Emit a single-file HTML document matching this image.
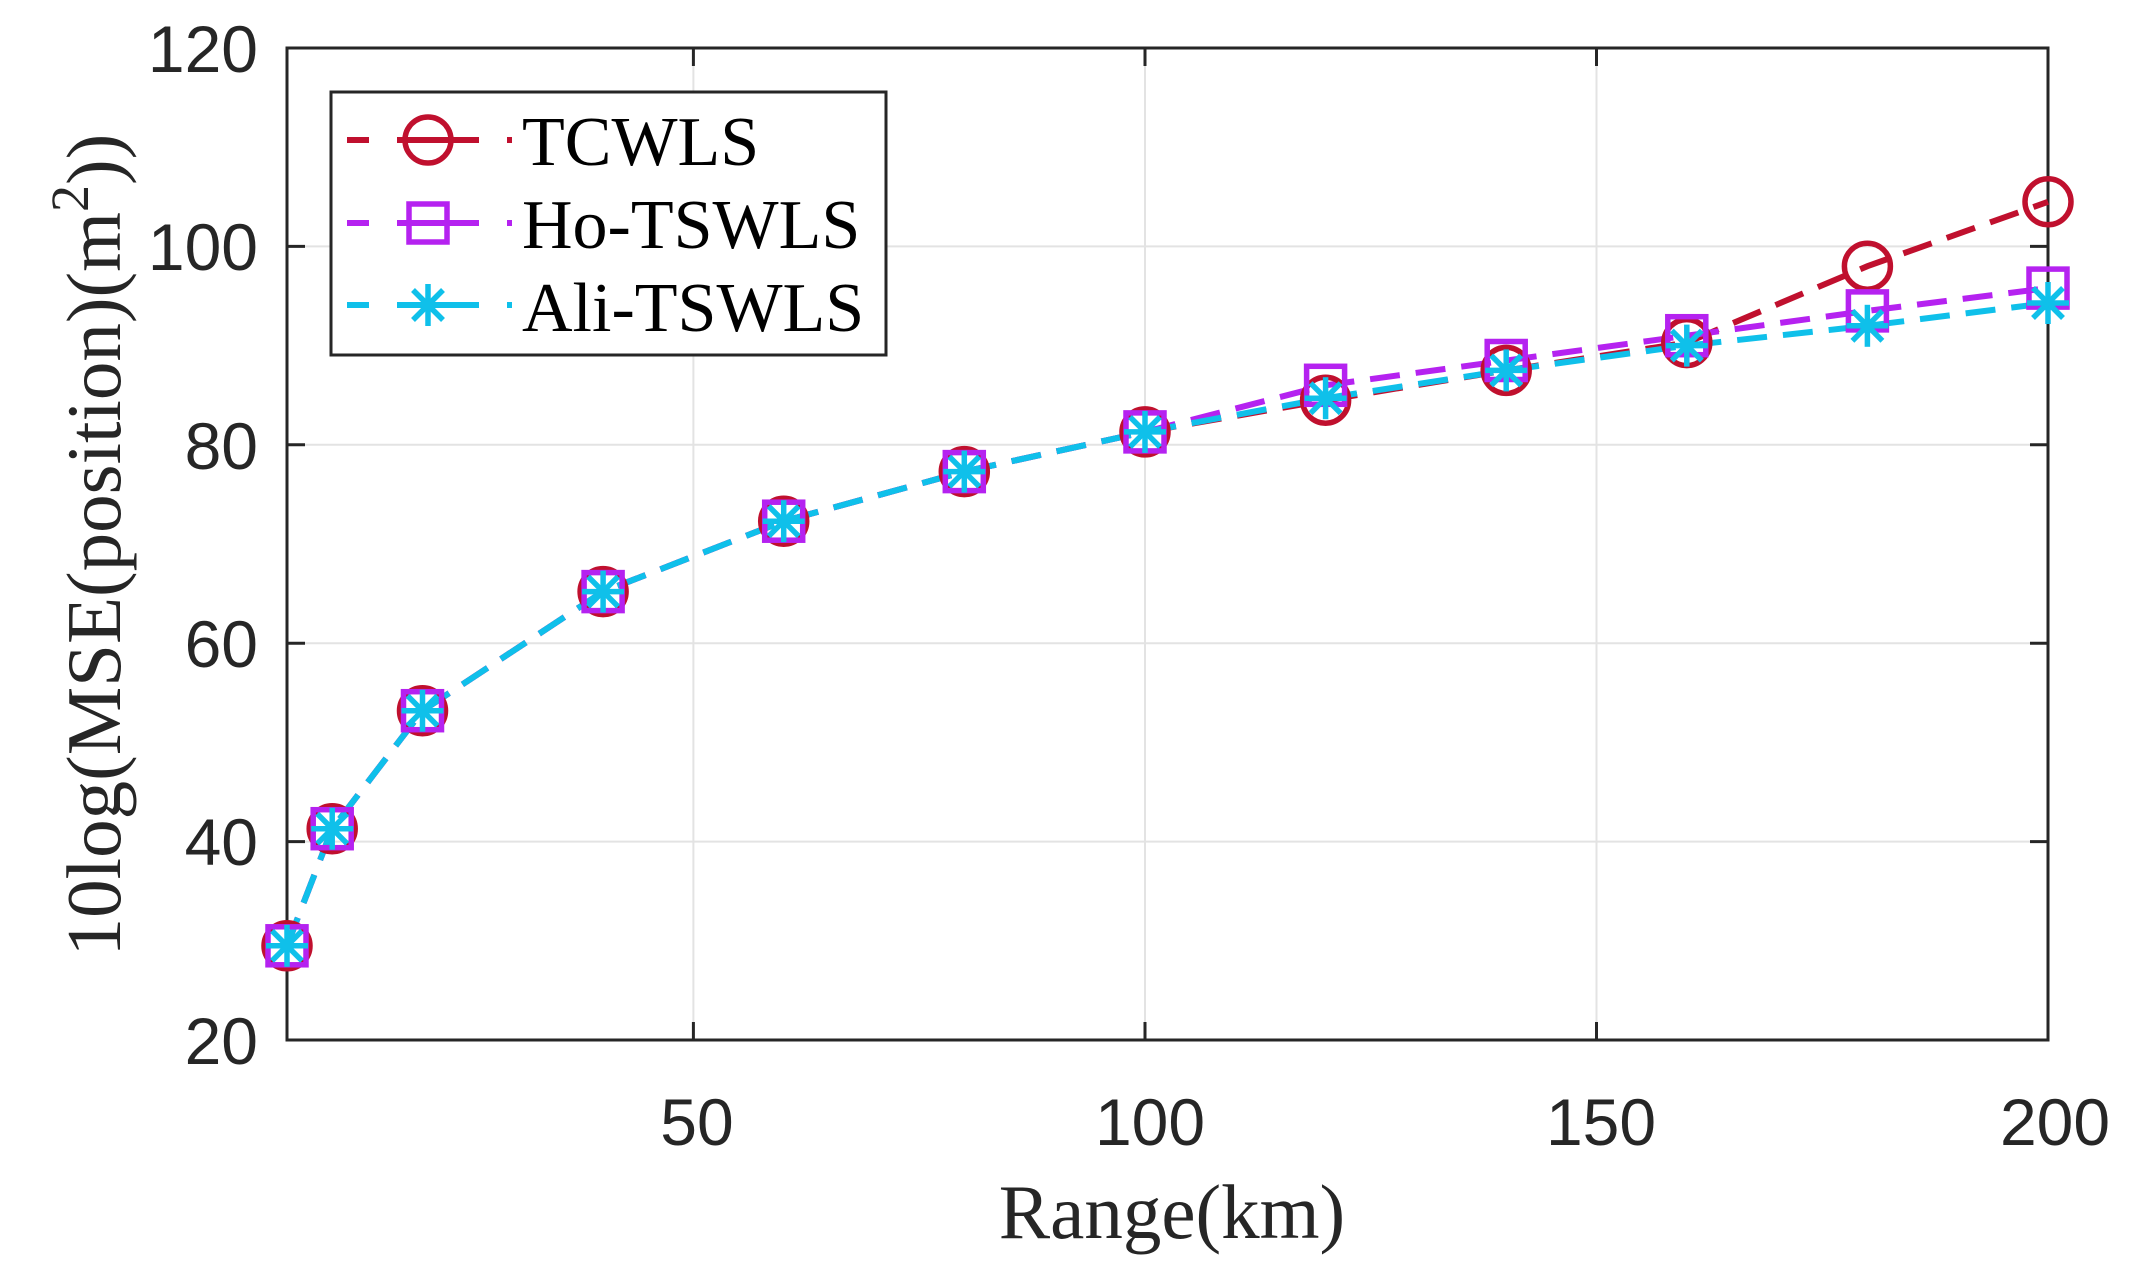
<!DOCTYPE html>
<html><head><meta charset="utf-8"><style>html,body{margin:0;padding:0;background:#fff}svg{display:block}</style></head>
<body>
<svg width="2134" height="1283" viewBox="0 0 2134 1283" xmlns="http://www.w3.org/2000/svg">
<defs>
<circle id="mc" r="23" fill="none" stroke="#c0102e" stroke-width="5.5"/>
<rect id="ms" x="-19" y="-19" width="38" height="38" fill="none" stroke="#b522f0" stroke-width="5.5"/>
<g id="ma" stroke="#0fc0ea" stroke-width="5.5"><line x1="-21" y1="0" x2="21" y2="0"/><line x1="0" y1="-21" x2="0" y2="21"/><line x1="-15" y1="-15" x2="15" y2="15"/><line x1="-15" y1="15" x2="15" y2="-15"/></g>
</defs>
<rect x="0" y="0" width="2134" height="1283" fill="#fff"/>
<g stroke="#e3e3e3" stroke-width="2">
<line x1="693.4" y1="48" x2="693.4" y2="1040"/><line x1="1145" y1="48" x2="1145" y2="1040"/><line x1="1596.5" y1="48" x2="1596.5" y2="1040"/>
<line x1="287" y1="841.6" x2="2048" y2="841.6"/><line x1="287" y1="643.2" x2="2048" y2="643.2"/><line x1="287" y1="444.8" x2="2048" y2="444.8"/><line x1="287" y1="246.4" x2="2048" y2="246.4"/>
</g>
<g stroke="#262626" stroke-width="3">
<line x1="693.4" y1="1040" x2="693.4" y2="1022"/><line x1="1145" y1="1040" x2="1145" y2="1022"/><line x1="1596.5" y1="1040" x2="1596.5" y2="1022"/>
<line x1="693.4" y1="48" x2="693.4" y2="66"/><line x1="1145" y1="48" x2="1145" y2="66"/><line x1="1596.5" y1="48" x2="1596.5" y2="66"/>
<line x1="287" y1="841.6" x2="305" y2="841.6"/><line x1="287" y1="643.2" x2="305" y2="643.2"/><line x1="287" y1="444.8" x2="305" y2="444.8"/><line x1="287" y1="246.4" x2="305" y2="246.4"/>
<line x1="2048" y1="841.6" x2="2030" y2="841.6"/><line x1="2048" y1="643.2" x2="2030" y2="643.2"/><line x1="2048" y1="444.8" x2="2030" y2="444.8"/><line x1="2048" y1="246.4" x2="2030" y2="246.4"/>
</g>
<rect x="287" y="48" width="1761" height="992" fill="none" stroke="#262626" stroke-width="3"/>
<g font-family="Liberation Sans, sans-serif" font-size="66" fill="#262626" text-anchor="end">
<text x="258" y="1064">20</text><text x="258" y="865">40</text><text x="258" y="667">60</text><text x="258" y="469">80</text><text x="258" y="270">100</text><text x="258" y="72">120</text>
</g>
<g font-family="Liberation Sans, sans-serif" font-size="66" fill="#262626" text-anchor="middle">
<text x="697" y="1145">50</text><text x="1150" y="1145">100</text><text x="1601" y="1145">150</text><text x="2055" y="1145">200</text>
</g>
<text x="1172" y="1238" font-family="Liberation Serif, serif" font-size="77" fill="#262626" text-anchor="middle">Range(km)</text>
<text transform="translate(120,545) rotate(-90)" font-family="Liberation Serif, serif" font-size="77" fill="#262626" text-anchor="middle">10log(MSE(position)(m<tspan dy="-32" font-size="54">2</tspan><tspan dy="32">))</tspan></text>
<g fill="none" stroke-width="6" stroke-dasharray="30,16">
<polyline stroke="#c0102e" points="287,945.8 332.2,828.7 422.5,710.7 603.1,591.6 783.7,521.2 964.3,471.6 1145,431.9 1325.6,400.2 1506.2,370.4 1686.8,342.6 1867.4,266.2 2048,201.8"/>
<polyline stroke="#b522f0" points="287,945.8 332.2,828.7 422.5,710.7 603.1,591.6 783.7,521.2 964.3,471.6 1145,431.9 1325.6,385.3 1506.2,360.5 1686.8,335.7 1867.4,310.9 2048,288.1"/>
<polyline stroke="#0fc0ea" points="287,945.8 332.2,828.7 422.5,710.7 603.1,591.6 783.7,521.2 964.3,471.6 1145,431.9 1325.6,398.2 1506.2,370.4 1686.8,345.6 1867.4,325.8 2048,303"/>
</g>
<g>
<use href="#mc" x="287" y="945.8"/><use href="#mc" x="332.2" y="828.7"/><use href="#mc" x="422.5" y="710.7"/><use href="#mc" x="603.1" y="591.6"/><use href="#mc" x="783.7" y="521.2"/><use href="#mc" x="964.3" y="471.6"/><use href="#mc" x="1145" y="431.9"/><use href="#mc" x="1325.6" y="400.2"/><use href="#mc" x="1506.2" y="370.4"/><use href="#mc" x="1686.8" y="342.6"/><use href="#mc" x="1867.4" y="266.2"/><use href="#mc" x="2048" y="201.8"/>
<use href="#ms" x="287" y="945.8"/><use href="#ms" x="332.2" y="828.7"/><use href="#ms" x="422.5" y="710.7"/><use href="#ms" x="603.1" y="591.6"/><use href="#ms" x="783.7" y="521.2"/><use href="#ms" x="964.3" y="471.6"/><use href="#ms" x="1145" y="431.9"/><use href="#ms" x="1325.6" y="385.3"/><use href="#ms" x="1506.2" y="360.5"/><use href="#ms" x="1686.8" y="335.7"/><use href="#ms" x="1867.4" y="310.9"/><use href="#ms" x="2048" y="288.1"/>
<use href="#ma" x="287" y="945.8"/><use href="#ma" x="332.2" y="828.7"/><use href="#ma" x="422.5" y="710.7"/><use href="#ma" x="603.1" y="591.6"/><use href="#ma" x="783.7" y="521.2"/><use href="#ma" x="964.3" y="471.6"/><use href="#ma" x="1145" y="431.9"/><use href="#ma" x="1325.6" y="398.2"/><use href="#ma" x="1506.2" y="370.4"/><use href="#ma" x="1686.8" y="345.6"/><use href="#ma" x="1867.4" y="325.8"/><use href="#ma" x="2048" y="303"/>
</g>
<rect x="331" y="92" width="555" height="263" fill="#fff" stroke="#262626" stroke-width="3"/>
<g stroke-width="6" stroke-dasharray="22,28,82,28,5">
<line x1="347" y1="140" x2="512" y2="140" stroke="#c0102e"/>
<line x1="347" y1="223" x2="512" y2="223" stroke="#b522f0"/>
<line x1="347" y1="305" x2="512" y2="305" stroke="#0fc0ea"/>
</g>
<use href="#mc" x="428" y="140"/><use href="#ms" x="428" y="223"/><use href="#ma" x="428" y="305"/>
<g font-family="Liberation Serif, serif" font-size="70" fill="#000">
<text x="522" y="165">TCWLS</text><text x="522" y="248">Ho-TSWLS</text><text x="522" y="331">Ali-TSWLS</text>
</g>
</svg>
</body></html>
